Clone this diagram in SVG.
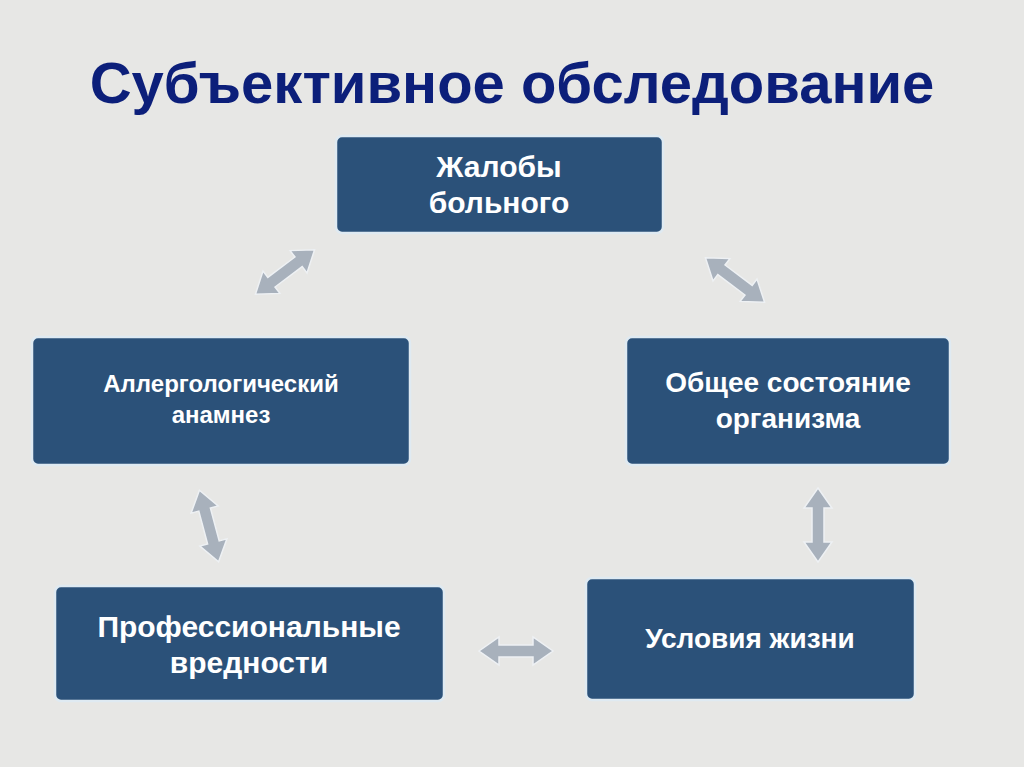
<svg xmlns="http://www.w3.org/2000/svg" width="1024" height="767" viewBox="0 0 1024 767">
<style>
.box{fill:#2b5179;stroke:#dfeaf2;stroke-width:2.5}
.t{font-family:"Liberation Sans",Arial,sans-serif;font-weight:bold;fill:#ffffff;text-anchor:middle}
.arr{fill:#a8b1bc;stroke:#eef1f4;stroke-width:1.5}
</style>
<defs>
<path id="da" d="M-37,0 L-17,-14 L-17,-6 L17,-6 L17,-14 L37,0 L17,14 L17,6 L-17,6 L-17,14 Z"/>
</defs>
<rect width="1024" height="767" fill="#e7e7e5"/>
<text x="512" y="103" font-family="'Liberation Sans',Arial,sans-serif" font-weight="bold" font-size="58" fill="#0c1f7a" text-anchor="middle">Субъективное обследование</text>
<g id="connectors">
<use href="#da" class="arr" transform="translate(285,272) rotate(-37)"/>
<use href="#da" class="arr" transform="translate(735,280) rotate(37)"/>
<use href="#da" class="arr" transform="translate(209,526) rotate(75)"/>
<use href="#da" class="arr" transform="translate(818,525) rotate(90)"/>
<use href="#da" class="arr" transform="translate(516,651)"/>
</g>
<g id="n1"><rect class="box" x="336" y="136" width="327" height="97" rx="6"/>
<text class="t" font-size="30"><tspan x="499" y="177">Жалобы</tspan><tspan x="499" y="213">больного</tspan></text></g>
<g id="n2"><rect class="box" x="32" y="337" width="378" height="128" rx="6"/>
<text class="t" font-size="24"><tspan x="221" y="392">Аллергологический</tspan><tspan x="221" y="423">анамнез</tspan></text></g>
<g id="n3"><rect class="box" x="626" y="337" width="324" height="128" rx="6"/>
<text class="t" font-size="28"><tspan x="788" y="392">Общее состояние</tspan><tspan x="788" y="428">организма</tspan></text></g>
<g id="n4"><rect class="box" x="55" y="586" width="389" height="115" rx="6"/>
<text class="t" font-size="30"><tspan x="249" y="637">Профессиональные</tspan><tspan x="249" y="673">вредности</tspan></text></g>
<g id="n5"><rect class="box" x="586" y="578" width="329" height="122" rx="6"/>
<text class="t" font-size="28"><tspan x="750" y="648">Условия жизни</tspan></text></g>
</svg>
